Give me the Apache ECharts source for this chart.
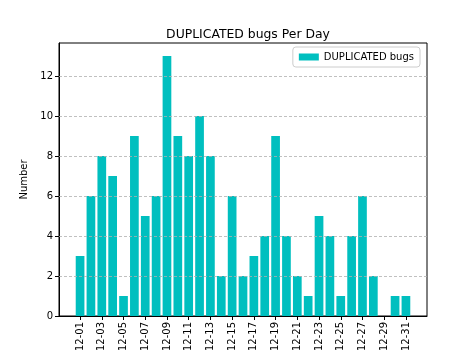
<!DOCTYPE html>
<html>
<head>
<meta charset="utf-8">
<script src="https://cdn.jsdelivr.net/npm/echarts@6/dist/echarts.min.js"></script>
<style>html,body{margin:0;padding:0;background:#fff}#c{width:474px;height:355px}</style>
</head>
<body>
<div id="c"></div>
<script>
const days = ['12-01','12-02','12-03','12-04','12-05','12-06','12-07','12-08','12-09','12-10','12-11','12-12','12-13','12-14','12-15','12-16','12-17','12-18','12-19','12-20','12-21','12-22','12-23','12-24','12-25','12-26','12-27','12-28','12-29','12-30','12-31'];
const counts = [3,6,8,7,1,9,5,6,13,9,8,10,8,2,6,2,3,4,9,4,2,1,5,4,1,4,6,2,0,1,1];
const yTicks = [0,2,4,6,8,10,12];
const seriesName = 'DUPLICATED bugs';
const titleText = 'DUPLICATED bugs Per Day';

const xTickPos = days.map((d,i)=>i).filter(i=>i%2===0);
const font = 'DejaVu Sans';
const chart = echarts.init(document.getElementById('c'), null, {renderer:'canvas'});
chart.setOption({
  animation:false,
  textStyle:{fontFamily:font},
  title:{text:titleText,left:243,top:24,textAlign:'center',textStyle:{fontSize:12.4,fontWeight:'normal',color:'#000',fontFamily:font}},
  legend:{data:[seriesName],right:54,top:47,icon:'rect',itemWidth:20,itemHeight:7,
    backgroundColor:'#fff',borderColor:'#ccc',borderWidth:1,borderRadius:3,padding:[5,6],
    textStyle:{fontSize:10,color:'#000',fontFamily:font}},
  grid:{left:59,right:47,top:43,bottom:39,show:true,borderColor:'#000',borderWidth:1,backgroundColor:'transparent'},
  xAxis:{type:'value',min:-1.94,max:31.94,
    axisLine:{show:true,onZero:false,lineStyle:{color:'#000'}},
    axisTick:{show:true,customValues:xTickPos,length:4,lineStyle:{color:'#000'}},
    axisLabel:{customValues:xTickPos,rotate:90,fontSize:10,color:'#000',margin:6,formatter:v=>days[Math.round(v)]||''},
    splitLine:{show:false}},
  yAxis:{type:'value',min:0,max:13.65,
    name:'Number',nameLocation:'middle',nameGap:26,nameTextStyle:{fontSize:10,color:'#000'},
    axisLine:{show:true,onZero:false,lineStyle:{color:'#000'}},
    axisTick:{show:true,customValues:yTicks,length:4,lineStyle:{color:'#000'}},
    axisLabel:{customValues:yTicks,fontSize:10,color:'#000',margin:6},
    splitLine:{show:false}},
  series:[
    {name:seriesName,type:'bar',barWidth:8.7,itemStyle:{color:'#00BFBF'},
     data:counts.map((v,i)=>[i,v]),z:3},
    {type:'line',silent:true,symbol:'none',data:[],
     markLine:{silent:true,symbol:'none',label:{show:false},
       lineStyle:{type:[3,2],color:'#b0b0b0',width:0.8},
       data:yTicks.filter(t=>t>0).map(t=>({yAxis:t}))},z:1}
  ]
});
</script>
</body>
</html>
